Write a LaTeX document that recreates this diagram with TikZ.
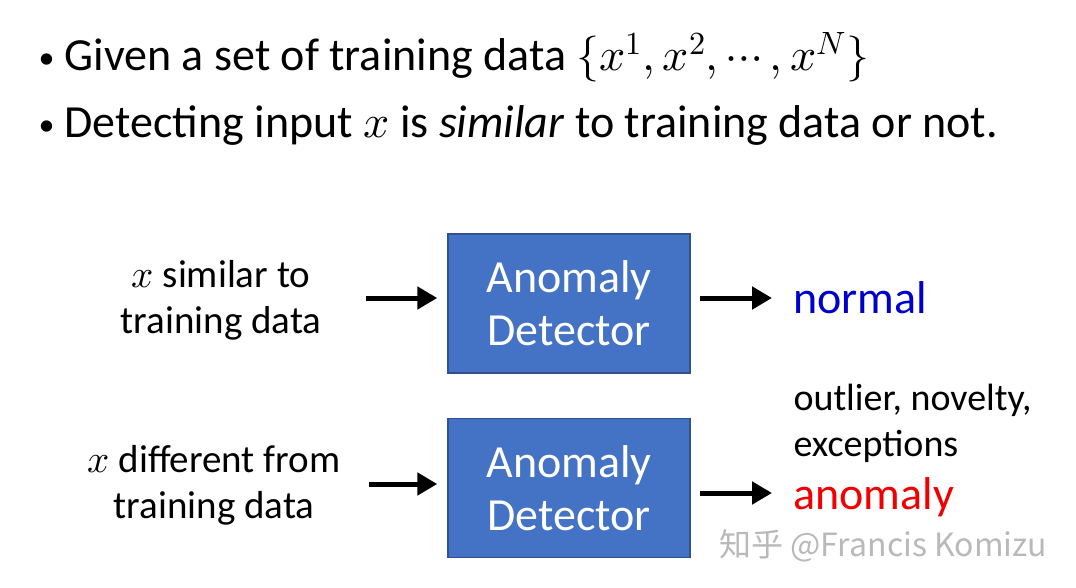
\documentclass[tikz,border=0pt]{standalone}
\usepackage{fontspec}
\usepackage{unicode-math}
\setmainfont{Carlito}
\setmathfont{Latin Modern Math}
\newfontfamily\cjkfont{Noto Sans CJK SC}
\usetikzlibrary{arrows.meta}
\definecolor{boxblue}{RGB}{68,114,196}
\definecolor{boxedge}{RGB}{47,82,143}
\definecolor{normblue}{RGB}{0,0,204}
\definecolor{anomred}{RGB}{240,0,0}
\tikzset{%
    detector/.style={%
        draw=boxedge, line width=1.5pt, fill=boxblue, text=white,
        minimum width=242pt, minimum height=139pt, align=center,
        font=\fontsize{46}{53}\selectfont
    },
    sidetext/.style={align=center, font=\fontsize{39}{46}\selectfont},
    bigarrow/.style={line width=5pt, -{Triangle[length=20pt,width=22pt]}}
}

\begin{document}
\begin{tikzpicture}[x=1pt,y=-1pt]
    \useasboundingbox (0,0) rectangle (1076,588);
%-----------------------------------------------
    \node[anchor=base west, font=\fontsize{32}{40}\selectfont] (dot1) at (35,69) {\textbullet};
    \node[anchor=base west, font=\fontsize{46}{53}\selectfont] (line1) at (61,71)
        {Given a set of training data $\{x^1,x^2,\cdots,x^N\}$};
    \node[anchor=base west, font=\fontsize{32}{40}\selectfont] (dot2) at (35,136) {\textbullet};
    \node[anchor=base west, font=\fontsize{46}{53}\selectfont] (line2) at (61,138)
        {Detecting input $x$ is \textit{similar} to training data or not.};
%-----------------------------------------------
    \node[detector] (det1) at (569,303.5) {Anomaly\\Detector};
    \node[detector] (det2) at (569,488) {Anomaly\\Detector};
%-----------------------------------------------
    \node[sidetext] (in1) at (221,300) {$x$ similar to\\training data};
    \node[sidetext] (in2) at (214,485) {$x$ different from\\training data};
%-----------------------------------------------
    \node[anchor=base west, text=normblue, font=\fontsize{46}{53}\selectfont] (out1) at (790,313) {normal};
    \node[anchor=base west, font=\fontsize{38}{46}\selectfont] (other) at (790,410) {outlier, novelty,};
    \node[anchor=base west, font=\fontsize{38}{46}\selectfont] (other2) at (790,456) {exceptions};
    \node[anchor=base west, text=anomred, font=\fontsize{46}{53}\selectfont] (out2) at (790,509) {anomaly};
%-----------------------------------------------
    \coordinate (a1) at (366,298);
    \coordinate (a2) at (369,484);
    \coordinate (b1) at (700,298);
    \coordinate (b2) at (700,493);
    \draw[bigarrow, shorten >=10pt] (a1) -- (a1 -| det1.west);
    \draw[bigarrow, shorten >=10pt] (a2) -- (a2 -| det2.west);
    \draw[bigarrow, shorten >=18pt] (b1) -- (b1 -| out1.west);
    \draw[bigarrow, shorten >=18pt] (b2) -- (b2 -| out2.west);
%-----------------------------------------------
    \node[anchor=base west, text=gray!55, font=\cjkfont\fontsize{32}{40}\selectfont] (mark) at (716,556)
        {知乎 @Francis Komizu};
\end{tikzpicture}
\end{document}
